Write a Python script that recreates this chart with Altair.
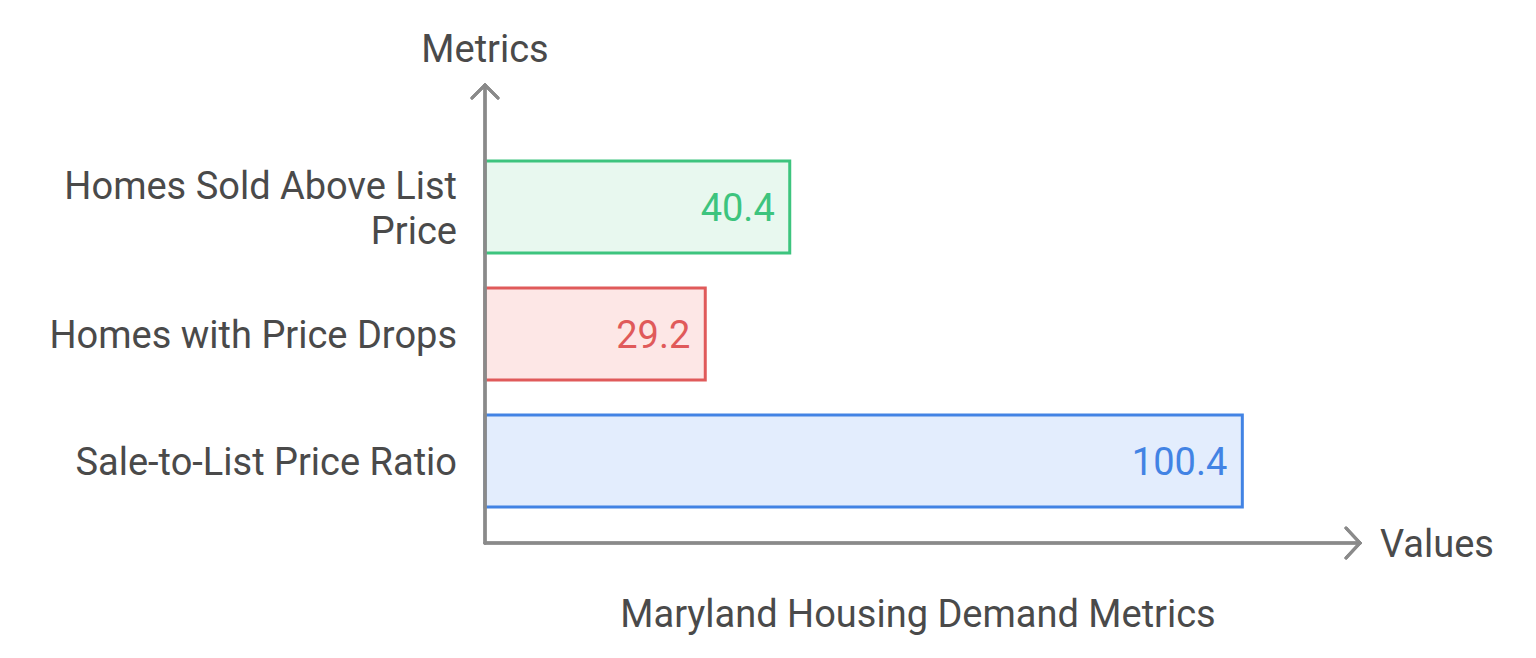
import altair as alt
import pandas as pd

metrics = ["Homes Sold Above List Price", "Homes with Price Drops", "Sale-to-List Price Ratio"]
labels = ["Homes Sold Above List\nPrice", "Homes with Price Drops", "Sale-to-List Price Ratio"]
values = [40.4, 29.2, 100.4]
strokes = ["#3DC47E", "#E05A5A", "#4283E4"]
fills = ["#E8F8EF", "#FDE7E6", "#E3EDFD"]

df = pd.DataFrame({"metric": metrics, "label": labels, "value": values})

W, H = 875, 418
FONT = "Roboto"
FS = 38
TXT = "#4a4a4a"
AX = "#8a8a8a"
DY = 3

y_enc = alt.Y("metric:N", sort=metrics, axis=None,
              scale=alt.Scale(paddingInner=0.2756, paddingOuter=0.2835))
x_enc = alt.X("value:Q", axis=None, scale=alt.Scale(domain=[0, 116], nice=False))

base = alt.Chart(df)

bars = base.mark_bar(strokeWidth=3, cornerRadius=0).encode(
    x=x_enc, y=y_enc,
    fill=alt.Fill("metric:N", scale=alt.Scale(domain=metrics, range=fills), legend=None),
    stroke=alt.Stroke("metric:N", scale=alt.Scale(domain=metrics, range=strokes), legend=None),
)

vals = base.mark_text(align="right", baseline="middle", dx=-15, dy=DY, fontSize=FS, font=FONT).encode(
    x=x_enc, y=y_enc,
    color=alt.Color("metric:N", scale=alt.Scale(domain=metrics, range=strokes), legend=None),
    text=alt.Text("value:Q", format=".1f"),
)

cats_single = base.transform_filter("indexof(datum.label, '\\n') < 0").mark_text(
    align="right", baseline="middle", fontSize=FS, font=FONT, color=TXT, dy=DY).encode(
    x=alt.value(-28), y=y_enc, text="label:N",
)
cats_multi = base.transform_filter("indexof(datum.label, '\\n') >= 0").mark_text(
    align="right", baseline="middle", fontSize=FS, font=FONT, color=TXT,
    lineBreak="\n", lineHeight=45, dy=-22 + DY).encode(
    x=alt.value(-28), y=y_enc, text="label:N",
)

def rule(x1, y1, x2, y2):
    return alt.Chart(df).mark_rule(color=AX, strokeWidth=3, strokeCap="round").encode(
        x=alt.value(x1), y=alt.value(y1), x2=alt.value(x2), y2=alt.value(y2))

axes = [
    rule(0, H, 0, -40),
    rule(-13, -27, 0, -40),
    rule(13, -27, 0, -40),
    rule(0, H, W, H),
    rule(W - 14, H - 15, W, H),
    rule(W - 14, H + 15, W, H),
]

def label(text, x, y, align, size=FS):
    return alt.Chart(pd.DataFrame({"t": [text]})).mark_text(
        align=align, baseline="middle", fontSize=size, font=FONT, color=TXT, dy=DY).encode(
        x=alt.value(x), y=alt.value(y), text="t:N")

titles = [
    label("Metrics", 0, -77, "center"),
    label("Values", W + 20, H, "left"),
    label("Maryland Housing Demand Metrics", 433, H + 70, "center"),
]

chart = alt.layer(bars, vals, cats_single, cats_multi, *axes, *titles).properties(
    width=W, height=H,
    autosize=alt.AutoSizeParams(type="none"),
    padding={"left": 477, "top": 117, "right": 168, "bottom": 107},
).configure_view(stroke=None)

chart.save("out.html", embed_options={"renderer": "svg", "actions": False})
